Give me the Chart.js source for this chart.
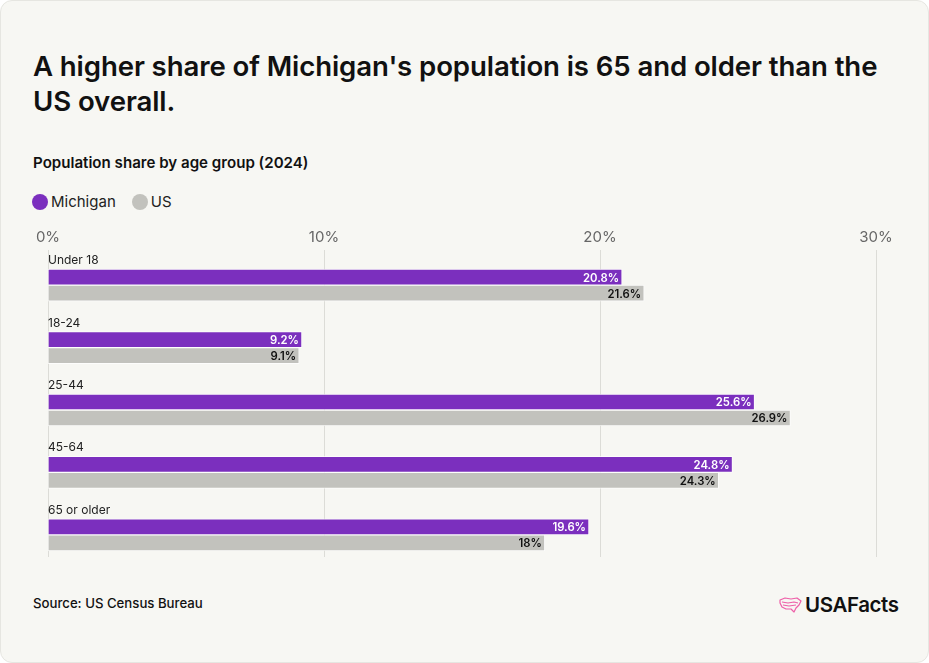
<!DOCTYPE html>
<html>
<head>
<meta charset="utf-8">
<script src="https://cdn.jsdelivr.net/npm/chart.js@4.4.1/dist/chart.umd.min.js"></script>
<style>
  html, body { margin: 0; padding: 0; background: #ffffff; }
  body { width: 929px; height: 663px; position: relative; overflow: hidden; font-family: Inter, "Noto Sans", sans-serif; color: #111; }
  .card { position: absolute; left: 0; top: 0; width: 927px; height: 661px; background: #f7f7f3; border: 1px solid #e6e6e1; border-radius: 12px; }
  .title { position: absolute; left: 33px; top: 49px; width: 860px; font-size: 27.6px; line-height: 35px; font-weight: 600; letter-spacing: -0.1px; }
  .subtitle { position: absolute; left: 33px; top: 153px; font-size: 15.1px; font-weight: 600; }
  .legend { position: absolute; left: 32px; top: 192px; font-size: 15px; display: flex; align-items: center; color: #222; }
  .legend .dot { width: 16px; height: 16px; border-radius: 50%; display: inline-block; margin-right: 3px; }
  .legend .item { display: flex; align-items: center; margin-right: 16px; }
  .source { position: absolute; left: 33px; top: 595px; font-size: 13.2px; font-weight: 500; }
  .logo { position: absolute; left: 779px; top: 592px; display: flex; align-items: center; font-size: 20.5px; font-weight: 600; letter-spacing: -0.4px; }
  .logo svg { margin-right: 3px; }
  .chart-box { position: absolute; left: 0; top: 220px; width: 929px; height: 346px; }
</style>
</head>
<body>
<div class="card"></div>
<div class="title">A higher share of Michigan's population is 65 and older than the US overall.</div>
<div class="subtitle">Population share by age group (2024)</div>
<div class="legend">
  <span class="item"><span class="dot" style="background:#7b2fbe"></span>Michigan</span>
  <span class="item"><span class="dot" style="background:#c2c2bd"></span>US</span>
</div>
<div class="chart-box"><canvas id="ageChart"></canvas></div>
<div class="source">Source: US Census Bureau</div>
<div class="logo">
  <svg width="23" height="16" viewBox="0 0 23 16"><path d="M1 3 L6 1 L12 2 L18 1 L22 4 L20 8 L17 11 L15 15 L12 12 L7 12 L3 10 L1 6 Z M3 5 L9 6 L15 5 L19 6 M4 8 L10 9 L17 8" fill="none" stroke="#ee5fa8" stroke-width="1.2" stroke-linejoin="round"/></svg>
  <span>USAFacts</span>
</div>
<script>
    // Data
    const ageGroups = ['Under 18', '18-24', '25-44', '45-64', '65 or older'];
    const michiganShare = [20.8, 9.2, 25.6, 24.8, 19.6];
    const usShare = [21.6, 9.1, 26.9, 24.3, 18];
    const xTicks = [0, 10, 20, 30];

    const MICHIGAN_COLOR = '#7b2fbe';
    const US_COLOR = '#c2c2bd';

    // Gridlines, category labels and value labels
    const annotatePlugin = {
        id: 'annotate',
        beforeDatasetsDraw(chart) {
            const ctx = chart.ctx;
            const xScale = chart.scales.x;
            ctx.save();
            ctx.strokeStyle = '#dcdcd7';
            ctx.lineWidth = 1;
            xTicks.forEach(function(t) {
                const x = Math.round(xScale.getPixelForValue(t)) + 0.5;
                ctx.beginPath();
                ctx.moveTo(x, 30);
                ctx.lineTo(x, 337);
                ctx.stroke();
            });
            ctx.restore();
        },
        afterDatasetsDraw(chart) {
            const ctx = chart.ctx;
            const xScale = chart.scales.x;
            const first = chart.getDatasetMeta(0);
            const second = chart.getDatasetMeta(1);
            ctx.save();
            ctx.textBaseline = 'alphabetic';
            ageGroups.forEach(function(label, i) {
                const bar = first.data[i];
                ctx.font = '12px Inter, "Noto Sans", sans-serif';
                ctx.fillStyle = '#222';
                ctx.textAlign = 'left';
                ctx.fillText(label, xScale.getPixelForValue(0), bar.y - bar.height / 2 - 5);
            });
            ctx.font = '600 11.3px Inter, "Noto Sans", sans-serif';
            ctx.textAlign = 'right';
            ctx.textBaseline = 'middle';
            [[first, michiganShare, '#ffffff'], [second, usShare, '#111111']].forEach(function(set) {
                set[0].data.forEach(function(bar, i) {
                    ctx.fillStyle = set[2];
                    ctx.fillText(set[1][i] + '%', bar.x - 3, bar.y + 1);
                });
            });
            ctx.restore();
        }
    };

    const ctx = document.getElementById('ageChart').getContext('2d');
    new Chart(ctx, {
        type: 'bar',
        data: {
            labels: ageGroups,
            datasets: [{
                label: 'Michigan',
                data: michiganShare,
                backgroundColor: MICHIGAN_COLOR,
                borderColor: 'rgba(255,255,255,0.7)',
                borderWidth: 1,
                borderSkipped: false,
                barThickness: 16
            }, {
                label: 'US',
                data: usShare,
                backgroundColor: US_COLOR,
                borderColor: 'rgba(255,255,255,0.7)',
                borderWidth: 1,
                borderSkipped: false,
                barThickness: 16
            }]
        },
        options: {
            indexAxis: 'y',
            responsive: true,
            maintainAspectRatio: false,
            animation: false,
            layout: {
                padding: {
                    top: 0,
                    bottom: 0,
                    left: 48,
                    right: 53
                }
            },
            scales: {
                x: {
                    position: 'top',
                    min: 0,
                    max: 30,
                    afterFit: function(scale) { scale.height = 34; },
                    afterBuildTicks: function(scale) {
                        scale.ticks = xTicks.map(v => ({ value: v }));
                    },
                    grid: { display: false },
                    border: { display: false },
                    ticks: {
                        padding: 0,
                        color: '#666',
                        font: { size: 15, family: 'Inter, "Noto Sans", sans-serif' },
                        callback: v => v + '%'
                    }
                },
                y: {
                    display: false,
                    offset: true
                }
            },
            plugins: {
                legend: { display: false },
                tooltip: { enabled: false }
            }
        },
        plugins: [annotatePlugin]
    });
</script>
</body>
</html>
